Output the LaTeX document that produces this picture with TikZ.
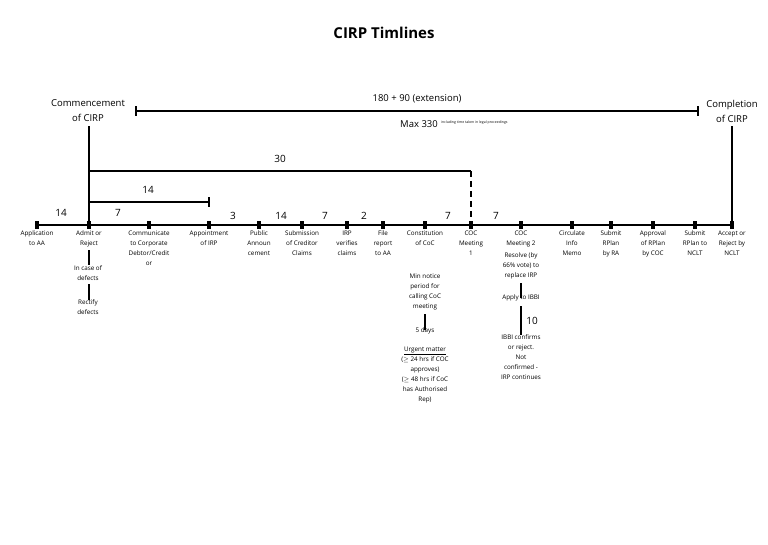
\documentclass[tikz,border=0pt]{standalone}
\usepackage{fontspec}
\setmainfont{Open Sans}
\begin{document}
\begin{tikzpicture}[x=1pt,y=-1pt,
 lab/.style={align=center,font=\fontsize{6.3}{10}\selectfont,inner sep=0pt,anchor=north},
 num/.style={font=\fontsize{10}{12}\selectfont,inner sep=0pt},
 big/.style={font=\fontsize{9.5}{15}\selectfont,inner sep=0pt,align=center},
 thick2/.style={line width=2.2pt},
 tk/.style={line width=2pt}]
\useasboundingbox (0,0) rectangle (768,544);
\node[font=\fontsize{15}{18}\selectfont\bfseries] (title) at (384,33) {CIRP Timlines};
% main line
\coordinate (L) at (37,225); \coordinate (R) at (732,225);
\draw[thick2] (L) -- (R);
\foreach \x/\t [count=\i] in {37/{Application\\to AA},89/{Admit or\\Reject},149/{Communicate\\to Corporate\\Debtor/Credit\\or},209/{Appointment\\of IRP},259/{Public\\Announ\\cement},302/{Submission\\of Creditor\\Claims},347/{IRP\\verifies\\claims},383/{File\\report\\to AA},425/{Constitution\\of CoC},471/{COC\\Meeting\\1},521/{COC\\Meeting 2},572/{Circulate\\Info\\Memo},611/{Submit\\RPlan\\by RA},653/{Approval\\of RPlan\\by COC},695/{Submit\\RPlan to\\NCLT},732/{Accept or\\Reject by\\NCLT}}{
 \draw[line width=4pt] (\x,221) -- (\x,229);
 \node[lab] (t\i) at (\x,231) {\t};
}
\foreach \x/\y/\n in {61/213/14,118/213/7,233/216/3,281/216/14,325/216/7,364/216/2,448/216/7,496/216/7}
 \node[num] at (\x,\y) {\n};
% commencement/completion
\node[big] (com) at (88,111) {Commencement\\of CIRP};
\node[big] (cpl) at (732,111) {Completion\\of CIRP};
\draw[thick2] (89,126) -- (89,225);
\draw[thick2] (732,126) -- (732,225);
% 180+90
\draw[tk] (136,111) -- (698,111);
\draw[tk] (136,106) -- (136,116); \draw[tk] (698,106) -- (698,116);
\node[big] (ext) at (417,99) {180 + 90 (extension)};
\node[big,anchor=east] (max) at (438,124) {Max 330};
\node[font=\fontsize{3.5}{4}\selectfont,anchor=west,inner sep=0pt] (note) at (441,123) {including time taken in legal proceedings};
% 30
\draw[tk] (89,171) -- (471,171);
\draw[tk,dash pattern=on 6pt off 4pt] (471,171) -- (471,221);
\node[num] (n30) at (280,159) {30};
% 14
\draw[line width=1.5pt] (89,202) -- (209,202);
\draw[line width=1.5pt] (209,197) -- (209,207);
\node[num] (n14) at (148,190) {14};
% admit sub
\draw[thick2] (89,250) -- (89,265);
\node[lab] (def) at (88,265) {In case of\\defects};
\draw[thick2] (89,284) -- (89,300);
\node[lab] (rect) at (88,299) {Rectify\\defects};
% constitution sub
\node[lab] (mn) at (425,274) {Min notice\\period for\\calling CoC\\meeting};
\draw[thick2] (425,314) -- (425,330);
\node[lab] (fd) at (425,328) {5 days};
\node[lab] (urg) at (425,347) {\underline{Urgent matter}\\(\(\geq\) 24 hrs if COC\\approves)\\(\(\geq\) 48 hrs if CoC\\has Authorised\\Rep)};
% coc2 sub
\node[lab] (res) at (521,253) {Resolve (by\\66\% vote) to\\replace IRP};
\draw[thick2] (521,283) -- (521,298);
\node[lab] (app) at (521,295) {Apply to IBBI};
\draw[thick2] (521,306) -- (521,335);
\node[num] (n10) at (532,321) {10};
\node[lab] (ib) at (521,334) {IBBI confirms\\or reject.\\Not\\confirmed -\\IRP continues};
\end{tikzpicture}
\end{document}
